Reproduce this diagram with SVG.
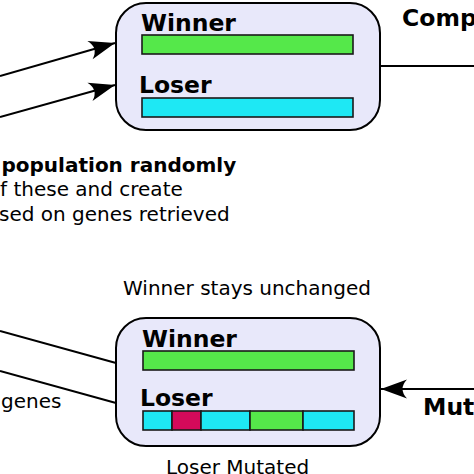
<svg xmlns="http://www.w3.org/2000/svg" width="474" height="474" viewBox="0 0 474 474">
<style>
.box{fill:#e8e8fa;stroke:#000;stroke-width:2}
.bar{stroke:#1a1a1a;stroke-width:1.6}
.g{fill:#55e84a}
.c{fill:#1ee8f4}
.m{fill:#d40a5a}
.b{font-family:"DejaVu Sans",sans-serif;font-weight:bold;font-size:23.5px;fill:#000}
.bs{font-family:"DejaVu Sans",sans-serif;font-weight:bold;font-size:20px;fill:#000}
.t{font-family:"DejaVu Sans",sans-serif;font-size:20px;fill:#000}
.ln{stroke:#000;stroke-width:2;fill:none}
</style>
<defs>
<marker id="ah" viewBox="-28 -11 30 22" refX="0" refY="0" markerWidth="30" markerHeight="22" markerUnits="userSpaceOnUse" orient="auto">
<path d="M0,0 L-26,-9.5 Q-17,0 -26,9.5 Z" fill="#000"/>
</marker>
</defs>
<g id="connectors">
<line class="ln" x1="0" y1="76" x2="115" y2="43" marker-end="url(#ah)"/>
<line class="ln" x1="0" y1="117" x2="115" y2="85" marker-end="url(#ah)"/>
<line class="ln" x1="380" y1="66" x2="474" y2="66"/>
<line class="ln" x1="0" y1="331" x2="116" y2="363"/>
<line class="ln" x1="0" y1="371" x2="116" y2="403"/>
<line class="ln" x1="474" y1="389" x2="381" y2="389" marker-end="url(#ah)"/>
</g>
<g id="top-pair">
<rect class="box" x="116" y="3" width="264" height="127" rx="30"/>
<text class="b" x="141" y="31">Winner</text>
<rect class="bar g" x="142" y="35" width="211" height="19"/>
<text class="b" x="139" y="93">Loser</text>
<rect class="bar c" x="142" y="98" width="211" height="19"/>
</g>
<g id="bottom-pair">
<rect class="box" x="116" y="318" width="264" height="128" rx="30"/>
<text class="b" x="142" y="347">Winner</text>
<rect class="bar g" x="143" y="351" width="211" height="19"/>
<text class="b" x="140" y="406">Loser</text>
<rect class="bar c" x="143" y="411" width="29" height="19"/>
<rect class="bar m" x="172" y="411" width="29" height="19"/>
<rect class="bar c" x="201" y="411" width="49" height="19"/>
<rect class="bar g" x="250" y="411" width="53" height="19"/>
<rect class="bar c" x="303" y="411" width="51" height="19"/>
</g>
<g id="labels">
<text class="b" x="402" y="26">Comp</text>
<text class="bs" x="1.5" y="172">population randomly</text>
<text class="t" x="0" y="196">f these and create</text>
<text class="t" x="-1" y="221">sed on genes retrieved</text>
<text class="t" x="123" y="295">Winner stays unchanged</text>
<text class="t" x="1" y="408">genes</text>
<text class="b" x="423" y="415">Mut</text>
<text class="t" x="166" y="474">Loser Mutated</text>
</g>
</svg>
